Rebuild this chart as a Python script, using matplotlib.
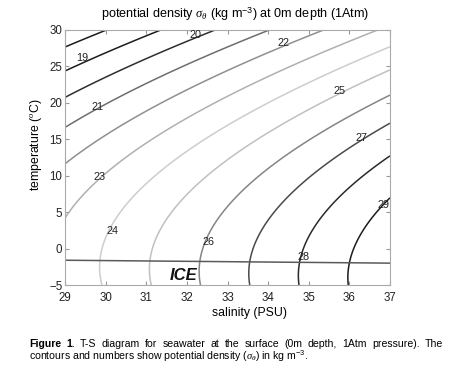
import numpy as np
import matplotlib
matplotlib.use('Agg')
import matplotlib.pyplot as plt

plt.rcParams['font.family'] = ['Liberation Sans', 'DejaVu Sans']
plt.rcParams['mathtext.fontset'] = 'custom'
plt.rcParams['mathtext.rm'] = 'Liberation Sans'
plt.rcParams['mathtext.it'] = 'Liberation Serif:italic'

# Axis ranges of the T-S diagram
salinity_range = [29, 37]
temperature_range = [-5, 30]
salinity_ticks = [29, 30, 31, 32, 33, 34, 35, 36, 37]
temperature_ticks = [-5, 0, 5, 10, 15, 20, 25, 30]

# Contour levels (sigma_theta, kg m-3) and the grey of each line
levels = [18, 19, 20, 21, 22, 23, 24, 25, 26, 27, 28, 29]
level_grays = ['#1c1c1c', '#1c1c1c', '#2e2e2e', '#6e6e6e', '#8f8f8f', '#b0b0b0',
               '#cdcdcd', '#c0c0c0', '#858585', '#4a4a4a', '#2a2a2a', '#1c1c1c']

# Where the numbers sit (salinity, temperature)
label_levels = [19, 20, 21, 22, 23, 24, 25, 26, 27, 28, 29]
label_S = [29.42, 32.2, 29.79, 34.37, 29.86, 30.16, 35.77, 32.52, 36.29, 34.88, 36.83]
label_T = [26.2, 29.3, 19.4, 28.2, 9.8, 2.4, 21.6, 0.9, 15.2, -1.2, 6.0]

# Freezing line (ICE)
freeze_S = [29, 37]
freeze_T = [-1.6, -2.0]


def sigma0(S, T):
    """UNESCO EOS-80 density at the surface, minus 1000."""
    rho_w = (999.842594 + 6.793952e-2 * T - 9.095290e-3 * T**2
             + 1.001685e-4 * T**3 - 1.120083e-6 * T**4 + 6.536332e-9 * T**5)
    a = (0.824493 - 4.0899e-3 * T + 7.6438e-5 * T**2
         - 8.2467e-7 * T**3 + 5.3875e-9 * T**4)
    b = -5.72466e-3 + 1.0227e-4 * T - 1.6546e-6 * T**2
    c = 4.8314e-4
    return rho_w + a * S + b * S**1.5 + c * S**2 - 1000.0


fig = plt.figure(figsize=(4.74, 3.71), dpi=100)
ax = fig.add_axes([65 / 474, 1 - 285 / 371, 325 / 474, 255 / 371])

S, T = np.meshgrid(np.linspace(salinity_range[0], salinity_range[1], 300),
                   np.linspace(temperature_range[0], temperature_range[1], 300))
ax.contour(S, T, sigma0(S, T), levels=levels, colors=level_grays, linewidths=1.1)

ax.plot(freeze_S, freeze_T, color='#5a5a5a', lw=1.1)
ax.text(31.92, -3.75, 'ICE', fontsize=12, fontweight='bold', fontstyle='italic',
        ha='center', va='center', color='#111111')

for lev, s, t in zip(label_levels, label_S, label_T):
    ax.text(s, t, str(lev), fontsize=7.8, ha='center', va='center', color='#222222')

ax.set_xlim(salinity_range)
ax.set_ylim(temperature_range)
ax.set_xticks(salinity_ticks)
ax.set_yticks(temperature_ticks)
ax.tick_params(direction='in', top=True, right=True, labelsize=8.3,
               length=3, color='#999999', labelcolor='#222222', pad=2)
ax.tick_params(axis='x', pad=5)
for sp in ax.spines.values():
    sp.set_color('#aaaaaa')
    sp.set_linewidth(0.8)

fig.text(235 / 474, 1 - 14 / 371,
         r'potential density $\sigma_\theta$ (kg m$^{-3}$) at 0m depth (1Atm)',
         fontsize=9.1, ha='center', va='center')
fig.text(250 / 474, 1 - 313 / 371, 'salinity (PSU)', fontsize=8.8,
         ha='center', va='center')
fig.text(36 / 474, 1 - 145 / 371, r'temperature ($^{o}$C)', fontsize=8.8,
         ha='center', va='center', rotation=90)

# Caption, first line justified
line1 = [[('Figure', 'bold')], [('1', 'bold'), ('.', 'normal')]]
line1 += [[(w, 'normal')] for w in
          'T-S diagram for seawater at the surface (0m depth, 1Atm pressure). The'.split()]
renderer = fig.canvas.get_renderer()
W = fig.bbox.width
x_left, x_right, y1 = 29 / W, 443 / W, 1 - 344 / 371
words = []
for word in line1:
    segs = []
    for txt, wt in word:
        t = fig.text(0, y1, txt, fontsize=7.6, fontweight=wt, va='center')
        segs.append((t, t.get_window_extent(renderer).width))
    words.append(segs)
total = sum(w for segs in words for _, w in segs)
gap = ((x_right - x_left) * W - total) / (len(words) - 1)
x = x_left * W
for segs in words:
    for t, w in segs:
        t.set_x(x / W)
        x += w
    x += gap

fig.text(x_left, 1 - 356 / 371,
         r'contours and numbers show potential density ($\sigma_\theta$) in kg m$^{-3}$.',
         fontsize=7.6, va='center')

fig.savefig('out.png', dpi=100)
